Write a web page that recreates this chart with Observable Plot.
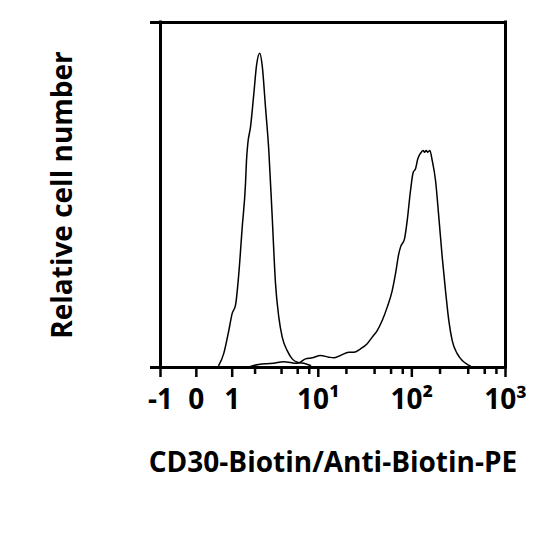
<!DOCTYPE html>
<html>
<head>
<meta charset="utf-8">
<script src="https://cdn.jsdelivr.net/npm/d3@7"></script>
<script src="https://cdn.jsdelivr.net/npm/@observablehq/plot@0.6"></script>
<style>
  html, body { margin: 0; padding: 0; background: #ffffff; }
  #chart svg { display: block; }
</style>
</head>
<body>
<div id="chart"></div>
<script>
// Control (isotype) histogram: fluorescence value and relative count
const controlFluor = [0.58, 0.727, 0.885, 1.0, 1.117, 1.244, 1.382, 1.525, 1.57, 1.631, 1.761, 1.932, 2.08, 2.275,
  2.425, 2.647, 2.885, 3.151, 3.43, 3.731, 4.068, 4.615, 5.232, 5.927, 7.286, 8.249];
const controlCount = [0.6, 4.1, 10.7, 15.7, 18.0, 27.2, 40.6, 53.3, 60.0, 64.9, 69.7, 79.3, 87.5, 91.1,
  87.5, 75.4, 62.9, 43.6, 24.3, 14.6, 8.8, 4.9, 2.5, 1.5, 1.1, 0.6];

// CD30-stained histogram
const sampleFluor = [1.761, 2.197, 3.258, 4.203, 5.927, 7.286, 8.604, 10.56, 12.96, 14.66, 17.29, 21.21, 23.99,
  28.3, 33.36, 37.73, 42.67, 48.25, 54.57, 61.71, 66.93, 72.59, 75.69, 83.5, 89.23, 96.78, 103.42, 109.44,
  115.8, 123.75, 132.2, 136.6, 142.4, 148.1, 155.6, 165.0, 179.0, 194.1, 211.0, 228.8, 248.2, 269.8, 305.1,
  345.0, 390.1, 423.0];
const sampleCount = [0.3, 0.9, 1.2, 1.7, 1.2, 2.5, 2.8, 3.5, 3.0, 2.8, 3.5, 4.4, 4.4,
  5.4, 6.9, 8.8, 10.7, 13.6, 17.5, 22.3, 27.2, 33.0, 34.9, 37.3, 42.6, 51.3, 56.6, 57.6,
  60.5, 62.1, 62.9, 62.4, 62.9, 62.4, 62.9, 60.0, 54.2, 43.6, 32.0, 22.3, 13.6, 7.8, 4.0,
  2.0, 0.9, 0.4];

const majorTicks = [-1, 0, 1, 10, 100, 1000];
const majorLabels = ["-1", "0", "1", "10¹", "10²", "10³"];
const minorTicks = [2, 4, 6, 8, 20, 40, 60, 80, 200, 400, 600, 800];
const xLabel = "CD30-Biotin/Anti-Biotin-PE";
const yLabel = "Relative cell number";
const yDomain = [0, 100];

// biexponential-like (arcsinh) display transform
const T = v => Math.asinh(v);

const control = controlFluor.map((v, i) => ({v, c: controlCount[i]}));
const sample = sampleFluor.map((v, i) => ({v, c: sampleCount[i]}));
const labelMap = new Map(majorTicks.map((v, i) => [T(v), majorLabels[i]]));

const font = "'Open Sans', 'Liberation Sans', sans-serif";
const fs = 28;

const chart = Plot.plot({
  width: 540,
  height: 540,
  marginLeft: 160,
  marginRight: 35,
  marginTop: 22,
  marginBottom: 173,
  style: {background: "#ffffff", fontFamily: font, color: "#000"},
  x: {domain: [T(majorTicks[0]), T(majorTicks[majorTicks.length - 1])]},
  y: {domain: yDomain, axis: null},
  marks: [
    Plot.line(control, {x: d => T(d.v), y: "c", stroke: "#000", strokeWidth: 1.5, curve: "monotone-x"}),
    Plot.line(sample, {x: d => T(d.v), y: "c", stroke: "#000", strokeWidth: 1.5, curve: "monotone-x"}),
    Plot.ruleX([T(majorTicks[0]), T(majorTicks[majorTicks.length - 1])], {stroke: "#000", strokeWidth: 3, insetTop: -1.5, insetBottom: -1.5}),
    Plot.ruleY(yDomain, {stroke: "#000", strokeWidth: 3, insetLeft: -10, insetRight: -1.5}),
    Plot.axisX({
      ticks: minorTicks.map(T), tickSize: 7, strokeWidth: 2.5, tickFormat: () => "", label: null
    }),
    Plot.axisX({
      ticks: majorTicks.map(T), tickSize: 10, strokeWidth: 2.5, tickPadding: 12,
      tickFormat: d => labelMap.get(d), label: null,
      fontSize: fs, fontWeight: "bold", fontFamily: font, fill: "#000"
    }),
    Plot.text([xLabel], {frameAnchor: "bottom", textAnchor: "middle", lineAnchor: "middle", dy: 96,
      fontSize: fs, fontWeight: "bold", fontFamily: font, fill: "#000"}),
    Plot.text([yLabel], {frameAnchor: "left", textAnchor: "middle", lineAnchor: "middle", dx: -97, rotate: -90,
      fontSize: fs, fontWeight: "bold", fontFamily: font, fill: "#000"})
  ]
});
document.getElementById("chart").appendChild(chart);
</script>
</body>
</html>
